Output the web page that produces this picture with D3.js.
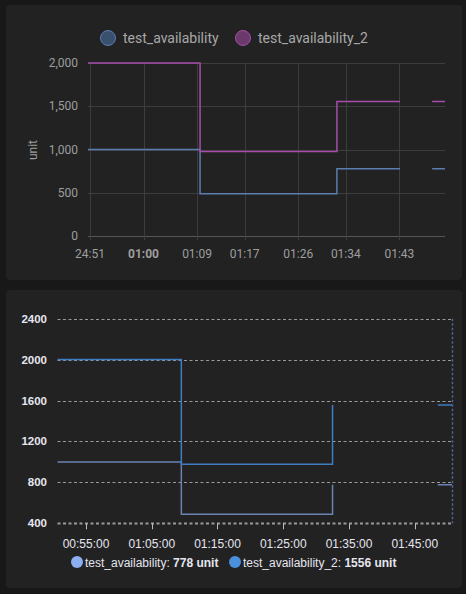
<!DOCTYPE html>
<html>
<head>
<meta charset="utf-8">
<script src="https://cdn.jsdelivr.net/npm/d3@7"></script>
<style>
  html, body { margin: 0; padding: 0; background: #181818; }
  svg { display: block; }
</style>
</head>
<body>
<div id="chart"></div>
<script>
var width = 466,
    height = 594;

// shared sample times (one hour window)
var times = ["00:50:40", "01:09:30", "01:32:30", "01:43:06", "01:46:00", "01:48:30", "01:50:40"];
var domainTimes = ["00:50:40", "01:50:40"];

// top chart series
var topA = [1000, 489, 778, 778, null, 778, 778];
var topB = [2000, 978, 1556, 1556, null, 1556, 1556];
var topYTicks = [0, 500, 1000, 1500, 2000];
var topXTicks = ["00:51", "01:00", "01:09", "01:17", "01:26", "01:34", "01:43"];
var topXLabels = ["24:51", "01:00", "01:09", "01:17", "01:26", "01:34", "01:43"];

// bottom chart series
var botA = [1000, 489, 778, null, null, 778, 778];
var botB = [2000, 978, 1556, null, null, 1556, 1556];
var botYTicks = [400, 800, 1200, 1600, 2000, 2400];
var botXTicks = ["00:55:00", "01:05:00", "01:15:00", "01:25:00", "01:35:00", "01:45:00"];

var seriesNames = ["test_availability", "test_availability_2"];
var lastValues = ["778 unit", "1556 unit"];

var parse = d3.timeParse("%H:%M:%S");
var parseHM = d3.timeParse("%H:%M");

var svg = d3.select("#chart").append("svg")
    .attr("width", width)
    .attr("height", height);

// cards
svg.append("rect").attr("x", 6).attr("y", 5).attr("width", 456).attr("height", 275)
    .attr("rx", 4).attr("fill", "#222222");
svg.append("rect").attr("x", 6).attr("y", 290).attr("width", 456).attr("height", 298)
    .attr("rx", 4).attr("fill", "#222222");

function stepLine(xs, ys, vals) {
  return d3.line()
      .defined(function (d, i) { return vals[i] !== null; })
      .x(function (d, i) { return xs(parse(times[i])); })
      .y(function (d, i) { return ys(vals[i]); })
      .curve(d3.curveStepAfter)(vals);
}

/* ---------- top chart ---------- */
var x1 = d3.scaleTime()
    .domain(domainTimes.map(parse))
    .range([88, 445]);
var y1 = d3.scaleLinear()
    .domain([0, 2000])
    .range([236, 63]);

var topG = svg.append("g").attr("font-family", "Roboto, sans-serif");

topG.append("g").selectAll("line")
    .data(topYTicks)
    .enter().append("line")
    .attr("x1", 88).attr("x2", 445)
    .attr("y1", function (d) { return Math.round(y1(d)) + 0.5; })
    .attr("y2", function (d) { return Math.round(y1(d)) + 0.5; })
    .attr("stroke", function (d) { return d === 0 ? "#555" : "#3d3d3d"; })
    .attr("stroke-width", 1);

topG.append("g").selectAll("line")
    .data(topXTicks)
    .enter().append("line")
    .attr("x1", function (d) { return Math.round(x1(parseHM(d))) + 0.5; })
    .attr("x2", function (d) { return Math.round(x1(parseHM(d))) + 0.5; })
    .attr("y1", 63).attr("y2", 240)
    .attr("stroke", "#3d3d3d");

topG.append("g").selectAll("text")
    .data(topYTicks)
    .enter().append("text")
    .attr("x", 78)
    .attr("y", function (d) { return y1(d) + 4; })
    .attr("text-anchor", "end")
    .attr("font-size", 12)
    .attr("fill", "#9e9e9e")
    .text(d3.format(","));

topG.append("g").selectAll("text")
    .data(topXTicks)
    .enter().append("text")
    .attr("x", function (d) { return x1(parseHM(d)); })
    .attr("y", 258)
    .attr("text-anchor", "middle")
    .attr("font-size", 12)
    .attr("font-weight", function (d, i) { return topXLabels[i] === "01:00" ? "bold" : "normal"; })
    .attr("fill", "#9e9e9e")
    .text(function (d, i) { return topXLabels[i]; });

topG.append("text")
    .attr("transform", "translate(37,150) rotate(-90)")
    .attr("text-anchor", "middle")
    .attr("font-size", 12)
    .attr("fill", "#9e9e9e")
    .text("unit");

var topColors = ["#5b7db0", "#a64dab"];
var topFills = ["#3a506f", "#6a3a6d"];

[topA, topB].forEach(function (vals, k) {
  topG.append("path")
      .attr("d", stepLine(x1, y1, vals))
      .attr("fill", "none")
      .attr("stroke", topColors[k])
      .attr("stroke-width", 1.5);
});

var legX = [108, 243];
seriesNames.forEach(function (name, k) {
  topG.append("circle")
      .attr("cx", legX[k]).attr("cy", 38).attr("r", 7.5)
      .attr("fill", topFills[k])
      .attr("stroke", topColors[k])
      .attr("stroke-width", 1);
  topG.append("text")
      .attr("x", legX[k] + 15).attr("y", 43)
      .attr("font-size", 14)
      .attr("fill", "#a8a8a8")
      .text(name);
});

/* ---------- bottom chart ---------- */
var x2 = d3.scaleTime()
    .domain(domainTimes.map(parse))
    .range([57.5, 452]);
var y2 = d3.scaleLinear()
    .domain([400, 2400])
    .range([523.3, 318.7]);

var botG = svg.append("g").attr("font-family", "'Liberation Sans', Arial, sans-serif");

botG.append("g").selectAll("line")
    .data(botYTicks)
    .enter().append("line")
    .attr("x1", 57.5).attr("x2", 452)
    .attr("y1", function (d) { return Math.round(y2(d)) + 0.5; })
    .attr("y2", function (d) { return Math.round(y2(d)) + 0.5; })
    .attr("stroke", "#9a9a9a")
    .attr("stroke-width", function (d) { return d === 400 ? 2 : 1; })
    .attr("stroke-dasharray", "3,2.5");

botG.append("line")
    .attr("x1", 452.5).attr("x2", 452.5)
    .attr("y1", y2(2400)).attr("y2", y2(400))
    .attr("stroke", "#4f6694")
    .attr("stroke-width", 1.5)
    .attr("stroke-dasharray", "2.5,2");

botG.append("g").selectAll("line")
    .data(botXTicks)
    .enter().append("line")
    .attr("x1", function (d) { return Math.round(x2(parse(d))) + 0.5; })
    .attr("x2", function (d) { return Math.round(x2(parse(d))) + 0.5; })
    .attr("y1", y2(400)).attr("y2", y2(400) + 6)
    .attr("stroke", "#bbbbbb");

botG.append("g").selectAll("text")
    .data(botYTicks)
    .enter().append("text")
    .attr("x", 47)
    .attr("y", function (d) { return y2(d) + 4; })
    .attr("text-anchor", "end")
    .attr("font-size", 11.5)
    .attr("font-weight", "bold")
    .attr("fill", "#e6e6f0")
    .text(function (d) { return d; });

botG.append("g").selectAll("text")
    .data(botXTicks)
    .enter().append("text")
    .attr("x", function (d) { return x2(parse(d)); })
    .attr("y", 548)
    .attr("text-anchor", "middle")
    .attr("font-size", 12)
    .attr("fill", "#e6e6f0")
    .text(function (d) { return d; });

var botColors = ["#6b82b3", "#3f7cc2"];
var botDots = ["#8eaef2", "#4a90dc"];

[botA, botB].forEach(function (vals, k) {
  botG.append("path")
      .attr("d", stepLine(x2, y2, vals))
      .attr("fill", "none")
      .attr("stroke", botColors[k])
      .attr("stroke-width", 1.5);
});

var legX2 = [77, 235];
seriesNames.forEach(function (name, k) {
  botG.append("circle")
      .attr("cx", legX2[k]).attr("cy", 562).attr("r", 6)
      .attr("fill", botDots[k]);
  var t = botG.append("text")
      .attr("x", legX2[k] + 8).attr("y", 566.5)
      .attr("font-size", 12)
      .attr("fill", "#e6e6f0");
  t.append("tspan").text(name + ": ");
  t.append("tspan").attr("font-weight", "bold").text(lastValues[k]);
});
</script>
</body>
</html>
